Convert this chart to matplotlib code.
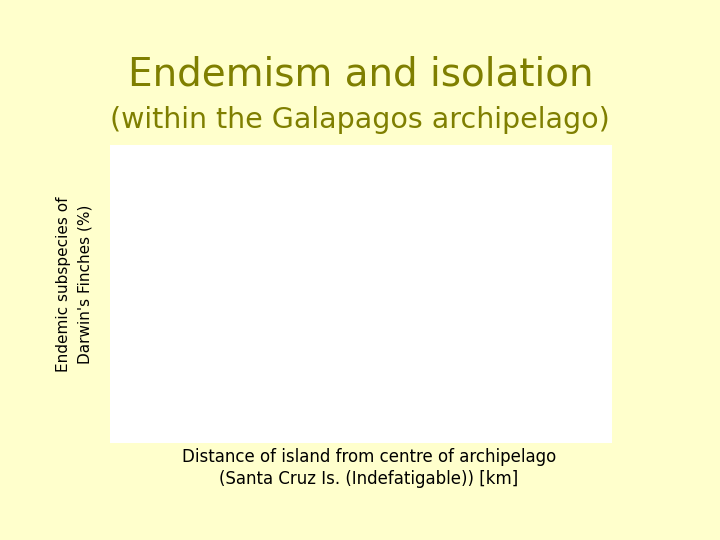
import matplotlib
matplotlib.use('Agg')
import matplotlib.pyplot as plt

plt.rcParams['font.family'] = ['DejaVu Sans']

# the slide shows an empty chart area: no points plotted yet
distance_km = []
endemic_pct = []

title = 'Endemism and isolation'
subtitle = '(within the Galapagos archipelago)'
xlabel = 'Distance of island from centre of archipelago\n(Santa Cruz Is. (Indefatigable)) [km]'
ylabel = "Endemic subspecies of\nDarwin's Finches (%)"

bg = '#ffffcc'
olive = '#7f7f00'

fig = plt.figure(figsize=(7.2, 5.4), dpi=100, facecolor=bg)
ax = fig.add_axes([110 / 720, 97 / 540, 502 / 720, 298 / 540])
ax.set_facecolor('white')
ax.plot(distance_km, endemic_pct, 'ko')
ax.set_xticks([])
ax.set_yticks([])
for s in ax.spines.values():
    s.set_visible(False)

fig.text(361 / 720, 1 - 75 / 540, title, ha='center', va='center', fontsize=28, color=olive)
fig.text(0.5, 1 - 120 / 540, subtitle, ha='center', va='center', fontsize=20.5, color=olive)
fig.text(369 / 720, 1 - 468 / 540, xlabel, ha='center', va='center', fontsize=12,
         color='black', linespacing=1.25, multialignment='center')
fig.text(74 / 720, 1 - 284 / 540, ylabel, ha='center', va='center', rotation=90,
         fontsize=11, color='black', linespacing=1.5, multialignment='center')

fig.savefig('out.png', dpi=100, facecolor=bg)
